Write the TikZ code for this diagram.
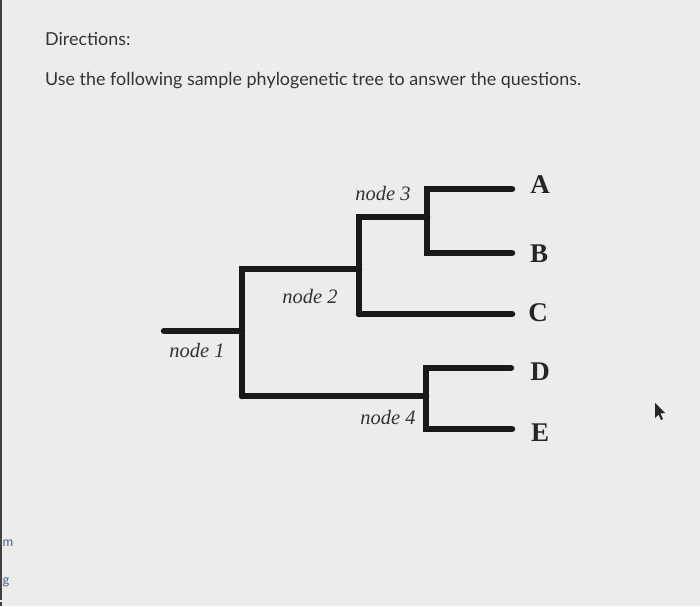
\documentclass[tikz,border=0pt]{standalone}
\usepackage{fontspec}
\setmainfont{Liberation Serif}
\newfontfamily\latofont{Lato}
\definecolor{paper}{HTML}{EDECEA}
\definecolor{inkgray}{HTML}{333335}
\definecolor{frag}{HTML}{4A5E8A}
\begin{document}
\begin{tikzpicture}[x=1pt,y=-1pt,
  branch/.style={line width=6.5pt,line cap=round,line join=miter,black!90},
  taxon/.style={font=\fontsize{27}{27}\selectfont\bfseries,text=black!85,inner sep=0pt},
  nodelabel/.style={font=\fontsize{20.5}{20.5}\selectfont\itshape,text=black!80,inner sep=0pt},
  heading/.style={font=\latofont\fontsize{17.9}{17.9}\selectfont,text=inkgray,inner sep=0pt,anchor=west},
  fragment/.style={font=\latofont\fontsize{13}{13}\selectfont,text=frag,inner sep=0pt,anchor=west}]
\useasboundingbox (0,0) rectangle (700,606);
\clip (0,0) rectangle (700,606);
\fill[paper] (0,0) rectangle (700,606);
\draw[line width=3pt,black!75] (0,0) -- (0,606);
\draw[line width=1.5pt,white!85!gray] (0,601) -- (700,601);
% text
\node[heading] (dir) at (45,39) {Directions:};
\node[heading] (use) at (45,81) {Use the following sample phylogenetic tree to answer the questions.};
% fragments at left edge
\node[fragment] (fm) at (2.5,543) {m};
\node[fragment] (fg) at (2.5,582) {g};
% tree coordinates
\coordinate (root) at (164,331);
\coordinate (n1) at (242,331);
\coordinate (n1t) at (242,269);
\coordinate (n1b) at (242,396);
\coordinate (n2) at (359,269);
\coordinate (n2t) at (359,217);
\coordinate (n2b) at (359,314);
\coordinate (n3) at (427,217);
\coordinate (n3t) at (427,189);
\coordinate (n3b) at (427,253);
\coordinate (n4) at (426,396);
\coordinate (n4t) at (426,368);
\coordinate (n4b) at (426,429);
\coordinate (ta) at (512,189);
\coordinate (tb) at (512,253);
\coordinate (tc) at (512,314);
\coordinate (td) at (511,368);
\coordinate (te) at (512,429);
\draw[branch] (root) -- (n1);
\draw[branch] (n1b) -- (n1t) -- (n2);
\draw[branch] (n2b) -- (n2t) -- (n3);
\draw[branch] (ta) -- (n3t) -- (n3b) -- (tb);
\draw[branch] (n2b) -- (tc);
\draw[branch] (n1b) -- (n4);
\draw[branch] (td) -- (n4t) -- (n4b) -- (te);
% taxa
\node[taxon] (A) at (540,185) {A};
\node[taxon] (B) at (539,254) {B};
\node[taxon] (C) at (538,313) {C};
\node[taxon] (D) at (540,372) {D};
\node[taxon] (E) at (540,433) {E};
% node labels
\node[nodelabel] (l3) at (383,193) {node 3};
\node[nodelabel] (l2) at (310,296) {node 2};
\node[nodelabel] (l1) at (197,350) {node 1};
\node[nodelabel] (l4) at (388,417) {node 4};
% cursor
\fill[black!85] (655,403) -- (655,418) -- (658.5,414.5) -- (661,420) -- (663,419) -- (660.5,413.5) -- (665,413) -- cycle;
\end{tikzpicture}
\end{document}
